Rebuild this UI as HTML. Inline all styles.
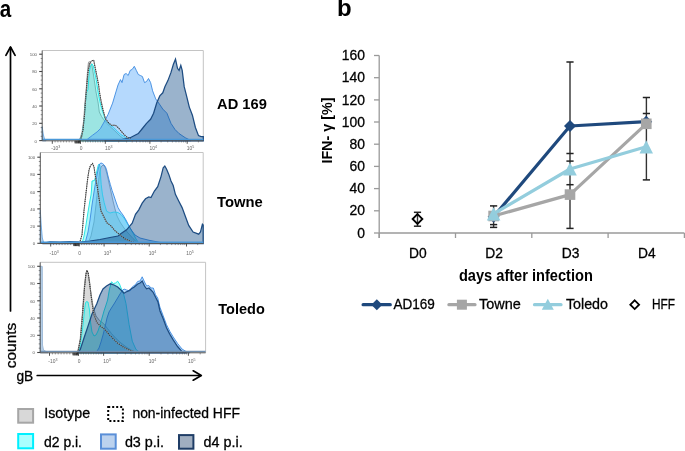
<!DOCTYPE html>
<html><head><meta charset="utf-8"><title>Figure</title>
<style>
html,body{margin:0;padding:0;background:#fff;}
body{width:685px;height:451px;overflow:hidden;}
svg{display:block;}
text{font-family:"Liberation Sans",Arial,sans-serif;}
.r{stroke:#000;stroke-width:0.28px;}
</style></head><body>
<svg width="685" height="451" viewBox="0 0 685 451">

<text transform="translate(-0.2,16.6) scale(0.86,0.97)" font-size="24" font-weight="bold" fill="#000">a</text>
<text x="337" y="16.2" font-size="24" font-weight="bold" fill="#000">b</text>
<g stroke="#000" stroke-width="1.7" fill="none" stroke-linecap="round" stroke-linejoin="round">
<path d="M10.5,311 L10.5,47.5"/>
<path d="M5.9,55.3 L10.5,47 L15.1,55.3"/>
<path d="M37.2,375.5 L200.5,375.5"/>
<path d="M193.2,370.8 L201.3,375.5 L193.2,380.2"/>
</g>
<text transform="translate(16.0,368.2) rotate(-90)" class="r" font-size="14.5" fill="#000" textLength="45.5" lengthAdjust="spacingAndGlyphs">counts</text>
<text x="16.4" y="380.5" class="r" font-size="14.2" fill="#000" textLength="16.8" lengthAdjust="spacingAndGlyphs">gB</text>
<path d="M42.2,50.5 L203.3,50.5 L203.3,140.8" stroke="#c4c4c4" stroke-width="1" fill="none"/>
<path d="M78.8,140.8 L78.8,140.6 L80.4,137.5 L82.1,131.9 L83.8,119.7 L84.9,103.1 L86.0,92.0 L86.6,84.0 L87.5,71.7 L88.4,62.9 L89.3,61.5 L90.6,62.9 L92.0,66.0 L93.5,75.0 L95.0,85.0 L96.0,92.0 L98.2,103.1 L99.3,112.0 L101.5,116.4 L103.7,119.7 L107.0,123.5 L110.0,126.5 L114.8,130.8 L120.3,136.3 L124.0,139.0 L127.0,140.6 L127.0,140.8 Z" fill="rgba(120,120,120,0.27)" stroke="#8a8a8a" stroke-width="0.9"/>
<path d="M79.5,140.8 L79.5,140.6 L81.0,137.5 L82.5,131.9 L84.2,119.7 L85.4,103.1 L86.6,92.0 L88.0,89.5 L89.3,71.7 L90.5,66.0 L92.0,63.8 L93.3,66.0 L94.6,71.7 L96.4,80.6 L97.7,89.5 L99.0,97.0 L100.5,104.0 L102.5,111.0 L105.4,119.7 L109.3,124.2 L113.7,127.5 L117.0,130.8 L120.3,134.1 L123.7,136.3 L127.0,138.8 L131.0,140.6 L131.0,140.8 Z" fill="rgba(62,245,237,0.40)" stroke="#19e3e3" stroke-width="0.9"/>
<path d="M86.0,140.8 L86.0,140.6 L88.2,138.6 L92.6,135.2 L97.1,131.9 L100.4,128.6 L104.8,120.8 L108.2,114.2 L112.6,103.1 L115.9,92.0 L118.0,85.0 L120.5,79.6 L122.0,82.6 L124.1,74.5 L126.1,73.5 L128.2,75.5 L130.2,70.4 L132.2,69.4 L134.3,66.3 L136.3,70.4 L138.3,74.5 L140.4,75.5 L142.4,76.5 L144.5,82.6 L146.5,81.6 L148.5,78.5 L150.6,82.6 L152.6,90.8 L155.7,98.9 L158.7,103.0 L162.8,109.1 L166.9,113.2 L171.0,123.4 L175.0,129.5 L179.1,133.6 L185.2,137.7 L191.0,140.6 L191.0,140.8 Z" fill="rgba(70,160,250,0.40)" stroke="#3d8ae0" stroke-width="0.9"/>
<path d="M105.0,140.8 L105.0,140.6 L120.0,140.0 L130.2,137.7 L138.3,133.6 L142.4,128.5 L146.5,123.4 L150.6,119.3 L153.6,113.2 L156.7,103.0 L159.8,95.9 L162.8,92.8 L164.9,86.7 L167.9,80.6 L171.0,72.4 L173.4,64.3 L175.5,59.2 L177.5,68.3 L179.1,70.4 L180.8,65.3 L182.2,70.4 L184.2,86.7 L186.3,94.9 L189.3,107.1 L192.4,115.2 L195.4,127.5 L198.5,135.6 L201.0,136.6 L203.3,136.6 L203.3,140.8 Z" fill="rgba(2,65,128,0.40)" stroke="#1d4c82" stroke-width="1.25"/>
<path d="M80.0,140.6 L81.5,137.0 L83.0,130.0 L84.5,115.0 L85.6,100.0 L86.8,85.0 L88.0,72.0 L89.5,64.0 L91.0,61.5 L92.5,60.5 L93.7,60.2 L95.1,67.3 L96.9,76.2 L98.6,85.0 L99.5,92.2 L101.0,100.9 L103.2,110.8 L105.4,118.6 L108.2,122.5 L111.5,125.3 L115.4,125.3 L118.1,127.5 L120.9,130.8 L123.7,134.1 L125.9,136.3 L129.0,138.5 L133.0,140.2" fill="none" stroke="#9a9a9a" stroke-width="1"/>
<path d="M80.0,140.6 L81.5,137.0 L83.0,130.0 L84.5,115.0 L85.6,100.0 L86.8,85.0 L88.0,72.0 L89.5,64.0 L91.0,61.5 L92.5,60.5 L93.7,60.2 L95.1,67.3 L96.9,76.2 L98.6,85.0 L99.5,92.2 L101.0,100.9 L103.2,110.8 L105.4,118.6 L108.2,122.5 L111.5,125.3 L115.4,125.3 L118.1,127.5 L120.9,130.8 L123.7,134.1 L125.9,136.3 L129.0,138.5 L133.0,140.2" fill="none" stroke="#333" stroke-width="1.1" stroke-dasharray="1.1,1.1"/>
<path d="M42.2,140.8 L42.2,126.6 L43.2,134.0 L44.5,139.0 L46.0,140.6 L46.0,140.8 Z" fill="rgba(110,160,210,0.5)" stroke="#5a9ee0" stroke-width="0.8"/>
<path d="M42.2,139.5 L203.3,139.5" stroke="#4a98d8" stroke-width="1.4" fill="none"/>
<path d="M42.2,50.5 L42.2,140.8 L203.3,140.8" stroke="#555" stroke-width="1" fill="none"/>
<path d="M80.2,140.8 L80.2,143.4" stroke="#111" stroke-width="0.8"/>
<path d="M79.4,140.8 L79.4,143.4" stroke="#111" stroke-width="0.8"/>
<path d="M78.5,140.8 L78.5,143.4" stroke="#111" stroke-width="0.8"/>
<path d="M77.7,140.8 L77.7,143.4" stroke="#111" stroke-width="0.8"/>
<path d="M76.8,140.8 L76.8,143.4" stroke="#111" stroke-width="0.8"/>
<path d="M76.0,140.8 L76.0,143.4" stroke="#111" stroke-width="0.8"/>
<path d="M75.1,140.8 L75.1,143.4" stroke="#111" stroke-width="0.8"/>
<path d="M55.1,140.8 L55.1,142.4" stroke="#555" stroke-width="0.6"/>
<path d="M57.9,140.8 L57.9,142.4" stroke="#555" stroke-width="0.6"/>
<path d="M60.8,140.8 L60.8,142.4" stroke="#555" stroke-width="0.6"/>
<path d="M63.6,140.8 L63.6,142.4" stroke="#555" stroke-width="0.6"/>
<path d="M66.4,140.8 L66.4,142.4" stroke="#555" stroke-width="0.6"/>
<path d="M69.2,140.8 L69.2,142.4" stroke="#555" stroke-width="0.6"/>
<path d="M72.0,140.8 L72.0,142.4" stroke="#555" stroke-width="0.6"/>
<path d="M74.9,140.8 L74.9,142.4" stroke="#555" stroke-width="0.6"/>
<path d="M77.7,140.8 L77.7,142.4" stroke="#555" stroke-width="0.6"/>
<path d="M83.0,140.8 L83.0,142.4" stroke="#555" stroke-width="0.6"/>
<path d="M85.5,140.8 L85.5,142.4" stroke="#555" stroke-width="0.6"/>
<path d="M87.9,140.8 L87.9,142.4" stroke="#555" stroke-width="0.6"/>
<path d="M90.4,140.8 L90.4,142.4" stroke="#555" stroke-width="0.6"/>
<path d="M92.9,140.8 L92.9,142.4" stroke="#555" stroke-width="0.6"/>
<path d="M95.4,140.8 L95.4,142.4" stroke="#555" stroke-width="0.6"/>
<path d="M97.9,140.8 L97.9,142.4" stroke="#555" stroke-width="0.6"/>
<path d="M100.3,140.8 L100.3,142.4" stroke="#555" stroke-width="0.6"/>
<path d="M102.8,140.8 L102.8,142.4" stroke="#555" stroke-width="0.6"/>
<path d="M118.7,140.8 L118.7,142.4" stroke="#555" stroke-width="0.6"/>
<path d="M126.6,140.8 L126.6,142.4" stroke="#555" stroke-width="0.6"/>
<path d="M132.2,140.8 L132.2,142.4" stroke="#555" stroke-width="0.6"/>
<path d="M136.5,140.8 L136.5,142.4" stroke="#555" stroke-width="0.6"/>
<path d="M140.0,140.8 L140.0,142.4" stroke="#555" stroke-width="0.6"/>
<path d="M143.0,140.8 L143.0,142.4" stroke="#555" stroke-width="0.6"/>
<path d="M145.6,140.8 L145.6,142.4" stroke="#555" stroke-width="0.6"/>
<path d="M147.9,140.8 L147.9,142.4" stroke="#555" stroke-width="0.6"/>
<path d="M161.1,140.8 L161.1,142.4" stroke="#555" stroke-width="0.6"/>
<path d="M167.7,140.8 L167.7,142.4" stroke="#555" stroke-width="0.6"/>
<path d="M172.4,140.8 L172.4,142.4" stroke="#555" stroke-width="0.6"/>
<path d="M176.0,140.8 L176.0,142.4" stroke="#555" stroke-width="0.6"/>
<path d="M178.9,140.8 L178.9,142.4" stroke="#555" stroke-width="0.6"/>
<path d="M181.4,140.8 L181.4,142.4" stroke="#555" stroke-width="0.6"/>
<path d="M183.6,140.8 L183.6,142.4" stroke="#555" stroke-width="0.6"/>
<path d="M185.5,140.8 L185.5,142.4" stroke="#555" stroke-width="0.6"/>
<path d="M198.4,140.8 L198.4,142.4" stroke="#555" stroke-width="0.6"/>
<path d="M39.2,140.6 L42.2,140.6" stroke="#444" stroke-width="1.1"/>
<path d="M40.7,136.3 L42.2,136.3" stroke="#444" stroke-width="0.6"/>
<path d="M40.7,132.0 L42.2,132.0" stroke="#444" stroke-width="0.6"/>
<path d="M40.7,127.6 L42.2,127.6" stroke="#444" stroke-width="0.6"/>
<path d="M39.2,123.3 L42.2,123.3" stroke="#444" stroke-width="1.1"/>
<path d="M40.7,119.0 L42.2,119.0" stroke="#444" stroke-width="0.6"/>
<path d="M40.7,114.7 L42.2,114.7" stroke="#444" stroke-width="0.6"/>
<path d="M40.7,110.4 L42.2,110.4" stroke="#444" stroke-width="0.6"/>
<path d="M39.2,106.0 L42.2,106.0" stroke="#444" stroke-width="1.1"/>
<path d="M40.7,101.7 L42.2,101.7" stroke="#444" stroke-width="0.6"/>
<path d="M40.7,97.4 L42.2,97.4" stroke="#444" stroke-width="0.6"/>
<path d="M40.7,93.1 L42.2,93.1" stroke="#444" stroke-width="0.6"/>
<path d="M39.2,88.8 L42.2,88.8" stroke="#444" stroke-width="1.1"/>
<path d="M40.7,84.4 L42.2,84.4" stroke="#444" stroke-width="0.6"/>
<path d="M40.7,80.1 L42.2,80.1" stroke="#444" stroke-width="0.6"/>
<path d="M40.7,75.8 L42.2,75.8" stroke="#444" stroke-width="0.6"/>
<path d="M39.2,71.5 L42.2,71.5" stroke="#444" stroke-width="1.1"/>
<path d="M40.7,67.2 L42.2,67.2" stroke="#444" stroke-width="0.6"/>
<path d="M40.7,62.8 L42.2,62.8" stroke="#444" stroke-width="0.6"/>
<path d="M40.7,58.5 L42.2,58.5" stroke="#444" stroke-width="0.6"/>
<path d="M39.2,54.2 L42.2,54.2" stroke="#444" stroke-width="1.1"/>
<text x="37.0" y="142.5" font-size="4.3" fill="#555" text-anchor="end">0</text>
<text x="37.0" y="125.2" font-size="4.3" fill="#555" text-anchor="end">20</text>
<text x="37.0" y="107.9" font-size="4.3" fill="#555" text-anchor="end">40</text>
<text x="37.0" y="90.7" font-size="4.3" fill="#555" text-anchor="end">60</text>
<text x="37.0" y="73.4" font-size="4.3" fill="#555" text-anchor="end">80</text>
<text x="37.0" y="56.1" font-size="4.3" fill="#555" text-anchor="end">100</text>
<path d="M52.3,140.8 L52.3,143.8" stroke="#444" stroke-width="0.9"/>
<path d="M80.5,140.8 L80.5,143.8" stroke="#444" stroke-width="0.9"/>
<path d="M105.3,140.8 L105.3,143.8" stroke="#444" stroke-width="0.9"/>
<path d="M149.9,140.8 L149.9,143.8" stroke="#444" stroke-width="0.9"/>
<path d="M187.2,140.8 L187.2,143.8" stroke="#444" stroke-width="0.9"/>
<text x="55.7" y="150.0" font-size="4.9" fill="#666" text-anchor="middle">-10<tspan font-size="3.6" dy="-2.2">3</tspan></text>
<text x="81.0" y="150.0" font-size="4.9" fill="#666" text-anchor="middle">0</text>
<text x="108.7" y="150.0" font-size="4.9" fill="#666" text-anchor="middle">10<tspan font-size="3.6" dy="-2.2">3</tspan></text>
<text x="153.3" y="150.0" font-size="4.9" fill="#666" text-anchor="middle">10<tspan font-size="3.6" dy="-2.2">4</tspan></text>
<text x="190.6" y="150.0" font-size="4.9" fill="#666" text-anchor="middle">10<tspan font-size="3.6" dy="-2.2">5</tspan></text>
<path d="M40.3,152.5 L203.2,152.5 L203.2,243.5" stroke="#c4c4c4" stroke-width="1" fill="none"/>
<path d="M88.0,243.5 L88.0,243.3 L91.0,236.0 L94.0,222.0 L96.0,205.0 L98.0,186.0 L99.5,173.0 L101.0,167.0 L103.0,165.0 L105.0,167.0 L107.0,174.0 L109.0,183.0 L111.0,192.0 L113.0,201.0 L115.0,209.0 L117.0,216.0 L120.0,222.0 L124.0,228.0 L128.0,233.0 L133.0,238.5 L138.0,243.3 L138.0,243.5 Z" fill="rgba(120,120,120,0.27)" stroke="#8a8a8a" stroke-width="0.9"/>
<path d="M82.0,243.5 L82.0,243.3 L84.0,236.0 L86.0,224.8 L88.0,212.0 L89.5,203.0 L91.0,195.0 L91.5,190.0 L92.0,181.0 L94.5,180.5 L96.0,175.0 L97.3,169.0 L98.3,165.0 L99.2,164.0 L100.0,166.0 L100.5,175.0 L101.2,184.4 L102.4,194.1 L104.2,202.7 L106.6,211.2 L110.0,213.0 L114.0,212.0 L118.0,212.5 L121.0,214.5 L124.0,218.0 L127.0,223.0 L130.0,228.0 L133.0,233.0 L136.0,239.0 L139.0,243.3 L139.0,243.5 Z" fill="rgba(62,245,237,0.40)" stroke="#19e3e3" stroke-width="0.9"/>
<path d="M85.0,243.5 L85.0,243.3 L88.0,232.0 L90.0,220.0 L92.0,205.0 L94.0,192.0 L96.0,180.0 L98.0,170.0 L99.5,164.0 L101.0,163.0 L102.5,163.5 L104.2,165.0 L105.5,167.0 L106.6,169.8 L107.5,174.0 L108.5,178.0 L110.3,184.4 L112.1,190.5 L114.0,196.0 L116.0,202.0 L118.0,207.5 L120.0,211.0 L123.0,215.0 L126.0,220.0 L129.0,226.0 L132.0,231.0 L135.0,235.0 L140.0,238.0 L150.0,240.5 L165.0,243.3 L165.0,243.5 Z" fill="rgba(70,160,250,0.40)" stroke="#3d8ae0" stroke-width="0.9"/>
<path d="M43.0,243.5 L43.0,243.3 L50.0,241.8 L60.0,242.0 L70.0,241.6 L80.0,242.0 L90.0,241.0 L100.0,239.5 L110.0,237.5 L118.0,236.0 L120.0,234.2 L126.6,229.8 L132.2,223.1 L135.5,214.3 L138.8,209.8 L142.2,203.2 L145.5,198.8 L148.8,197.0 L151.0,197.6 L154.4,191.0 L157.7,186.6 L161.0,176.6 L163.2,167.7 L164.8,166.0 L166.5,169.0 L168.8,174.4 L171.0,181.0 L173.2,185.5 L175.4,194.3 L178.7,201.0 L182.1,207.6 L185.4,216.5 L188.7,225.4 L193.1,232.0 L198.7,234.2 L200.5,232.0 L202.4,224.2 L203.2,225.0 L203.2,243.5 Z" fill="rgba(2,65,128,0.40)" stroke="#1d4c82" stroke-width="1.25"/>
<path d="M79.5,243.3 L80.5,240.0 L82.0,234.7 L84.0,210.8 L85.2,200.0 L86.0,193.0 L87.5,180.0 L89.0,170.0 L90.5,165.5 L92.5,163.5 L94.0,167.0 L95.5,177.0 L97.5,188.0 L99.0,198.0 L100.9,210.8 L103.9,216.8 L106.9,222.8 L110.9,225.8 L114.9,230.7 L119.0,234.0 L124.8,238.7 L131.0,241.5 L137.0,243.3" fill="none" stroke="#9a9a9a" stroke-width="1"/>
<path d="M79.5,243.3 L80.5,240.0 L82.0,234.7 L84.0,210.8 L85.2,200.0 L86.0,193.0 L87.5,180.0 L89.0,170.0 L90.5,165.5 L92.5,163.5 L94.0,167.0 L95.5,177.0 L97.5,188.0 L99.0,198.0 L100.9,210.8 L103.9,216.8 L106.9,222.8 L110.9,225.8 L114.9,230.7 L119.0,234.0 L124.8,238.7 L131.0,241.5 L137.0,243.3" fill="none" stroke="#333" stroke-width="1.1" stroke-dasharray="1.1,1.1"/>
<path d="M40.3,243.5 L40.3,210.0 L41.2,225.0 L42.3,238.0 L43.5,242.0 L45.0,243.3 L45.0,243.5 Z" fill="rgba(110,160,210,0.5)" stroke="#5a9ee0" stroke-width="0.8"/>
<path d="M40.3,242.2 L203.2,242.2" stroke="#4a98d8" stroke-width="1.4" fill="none"/>
<path d="M40.3,152.5 L40.3,243.5 L203.2,243.5" stroke="#555" stroke-width="1" fill="none"/>
<path d="M78.9,243.5 L78.9,246.1" stroke="#111" stroke-width="0.8"/>
<path d="M78.1,243.5 L78.1,246.1" stroke="#111" stroke-width="0.8"/>
<path d="M77.2,243.5 L77.2,246.1" stroke="#111" stroke-width="0.8"/>
<path d="M76.4,243.5 L76.4,246.1" stroke="#111" stroke-width="0.8"/>
<path d="M75.5,243.5 L75.5,246.1" stroke="#111" stroke-width="0.8"/>
<path d="M74.7,243.5 L74.7,246.1" stroke="#111" stroke-width="0.8"/>
<path d="M73.8,243.5 L73.8,246.1" stroke="#111" stroke-width="0.8"/>
<path d="M53.6,243.5 L53.6,245.1" stroke="#555" stroke-width="0.6"/>
<path d="M56.4,243.5 L56.4,245.1" stroke="#555" stroke-width="0.6"/>
<path d="M59.2,243.5 L59.2,245.1" stroke="#555" stroke-width="0.6"/>
<path d="M62.1,243.5 L62.1,245.1" stroke="#555" stroke-width="0.6"/>
<path d="M65.0,243.5 L65.0,245.1" stroke="#555" stroke-width="0.6"/>
<path d="M67.8,243.5 L67.8,245.1" stroke="#555" stroke-width="0.6"/>
<path d="M70.7,243.5 L70.7,245.1" stroke="#555" stroke-width="0.6"/>
<path d="M73.5,243.5 L73.5,245.1" stroke="#555" stroke-width="0.6"/>
<path d="M76.3,243.5 L76.3,245.1" stroke="#555" stroke-width="0.6"/>
<path d="M81.7,243.5 L81.7,245.1" stroke="#555" stroke-width="0.6"/>
<path d="M84.2,243.5 L84.2,245.1" stroke="#555" stroke-width="0.6"/>
<path d="M86.7,243.5 L86.7,245.1" stroke="#555" stroke-width="0.6"/>
<path d="M89.2,243.5 L89.2,245.1" stroke="#555" stroke-width="0.6"/>
<path d="M91.7,243.5 L91.7,245.1" stroke="#555" stroke-width="0.6"/>
<path d="M94.1,243.5 L94.1,245.1" stroke="#555" stroke-width="0.6"/>
<path d="M96.6,243.5 L96.6,245.1" stroke="#555" stroke-width="0.6"/>
<path d="M99.1,243.5 L99.1,245.1" stroke="#555" stroke-width="0.6"/>
<path d="M101.6,243.5 L101.6,245.1" stroke="#555" stroke-width="0.6"/>
<path d="M117.7,243.5 L117.7,245.1" stroke="#555" stroke-width="0.6"/>
<path d="M125.6,243.5 L125.6,245.1" stroke="#555" stroke-width="0.6"/>
<path d="M131.3,243.5 L131.3,245.1" stroke="#555" stroke-width="0.6"/>
<path d="M135.6,243.5 L135.6,245.1" stroke="#555" stroke-width="0.6"/>
<path d="M139.2,243.5 L139.2,245.1" stroke="#555" stroke-width="0.6"/>
<path d="M142.2,243.5 L142.2,245.1" stroke="#555" stroke-width="0.6"/>
<path d="M144.8,243.5 L144.8,245.1" stroke="#555" stroke-width="0.6"/>
<path d="M147.1,243.5 L147.1,245.1" stroke="#555" stroke-width="0.6"/>
<path d="M160.4,243.5 L160.4,245.1" stroke="#555" stroke-width="0.6"/>
<path d="M167.0,243.5 L167.0,245.1" stroke="#555" stroke-width="0.6"/>
<path d="M171.7,243.5 L171.7,245.1" stroke="#555" stroke-width="0.6"/>
<path d="M175.3,243.5 L175.3,245.1" stroke="#555" stroke-width="0.6"/>
<path d="M178.2,243.5 L178.2,245.1" stroke="#555" stroke-width="0.6"/>
<path d="M180.7,243.5 L180.7,245.1" stroke="#555" stroke-width="0.6"/>
<path d="M182.9,243.5 L182.9,245.1" stroke="#555" stroke-width="0.6"/>
<path d="M184.8,243.5 L184.8,245.1" stroke="#555" stroke-width="0.6"/>
<path d="M197.7,243.5 L197.7,245.1" stroke="#555" stroke-width="0.6"/>
<path d="M37.3,243.3 L40.3,243.3" stroke="#444" stroke-width="1.1"/>
<path d="M38.8,239.0 L40.3,239.0" stroke="#444" stroke-width="0.6"/>
<path d="M38.8,234.7 L40.3,234.7" stroke="#444" stroke-width="0.6"/>
<path d="M38.8,230.4 L40.3,230.4" stroke="#444" stroke-width="0.6"/>
<path d="M37.3,226.1 L40.3,226.1" stroke="#444" stroke-width="1.1"/>
<path d="M38.8,221.8 L40.3,221.8" stroke="#444" stroke-width="0.6"/>
<path d="M38.8,217.5 L40.3,217.5" stroke="#444" stroke-width="0.6"/>
<path d="M38.8,213.2 L40.3,213.2" stroke="#444" stroke-width="0.6"/>
<path d="M37.3,208.9 L40.3,208.9" stroke="#444" stroke-width="1.1"/>
<path d="M38.8,204.6 L40.3,204.6" stroke="#444" stroke-width="0.6"/>
<path d="M38.8,200.2 L40.3,200.2" stroke="#444" stroke-width="0.6"/>
<path d="M38.8,195.9 L40.3,195.9" stroke="#444" stroke-width="0.6"/>
<path d="M37.3,191.6 L40.3,191.6" stroke="#444" stroke-width="1.1"/>
<path d="M38.8,187.3 L40.3,187.3" stroke="#444" stroke-width="0.6"/>
<path d="M38.8,183.0 L40.3,183.0" stroke="#444" stroke-width="0.6"/>
<path d="M38.8,178.7 L40.3,178.7" stroke="#444" stroke-width="0.6"/>
<path d="M37.3,174.4 L40.3,174.4" stroke="#444" stroke-width="1.1"/>
<path d="M38.8,170.1 L40.3,170.1" stroke="#444" stroke-width="0.6"/>
<path d="M38.8,165.8 L40.3,165.8" stroke="#444" stroke-width="0.6"/>
<path d="M38.8,161.5 L40.3,161.5" stroke="#444" stroke-width="0.6"/>
<path d="M37.3,157.2 L40.3,157.2" stroke="#444" stroke-width="1.1"/>
<text x="35.1" y="245.2" font-size="4.3" fill="#555" text-anchor="end">0</text>
<text x="35.1" y="228.0" font-size="4.3" fill="#555" text-anchor="end">20</text>
<text x="35.1" y="210.8" font-size="4.3" fill="#555" text-anchor="end">40</text>
<text x="35.1" y="193.5" font-size="4.3" fill="#555" text-anchor="end">60</text>
<text x="35.1" y="176.3" font-size="4.3" fill="#555" text-anchor="end">80</text>
<text x="35.1" y="159.1" font-size="4.3" fill="#555" text-anchor="end">100</text>
<path d="M50.7,243.5 L50.7,246.5" stroke="#444" stroke-width="0.9"/>
<path d="M79.2,243.5 L79.2,246.5" stroke="#444" stroke-width="0.9"/>
<path d="M104.1,243.5 L104.1,246.5" stroke="#444" stroke-width="0.9"/>
<path d="M149.2,243.5 L149.2,246.5" stroke="#444" stroke-width="0.9"/>
<path d="M186.5,243.5 L186.5,246.5" stroke="#444" stroke-width="0.9"/>
<text x="54.1" y="255.4" font-size="4.9" fill="#666" text-anchor="middle">-10<tspan font-size="3.6" dy="-2.2">3</tspan></text>
<text x="79.7" y="255.4" font-size="4.9" fill="#666" text-anchor="middle">0</text>
<text x="107.5" y="255.4" font-size="4.9" fill="#666" text-anchor="middle">10<tspan font-size="3.6" dy="-2.2">3</tspan></text>
<text x="152.6" y="255.4" font-size="4.9" fill="#666" text-anchor="middle">10<tspan font-size="3.6" dy="-2.2">4</tspan></text>
<text x="189.9" y="255.4" font-size="4.9" fill="#666" text-anchor="middle">10<tspan font-size="3.6" dy="-2.2">5</tspan></text>
<path d="M40.2,262.3 L205.6,262.3 L205.6,352.8" stroke="#c4c4c4" stroke-width="1" fill="none"/>
<path d="M77.0,352.8 L77.0,352.5 L78.1,349.5 L80.2,339.0 L82.3,314.0 L84.3,287.0 L85.8,274.0 L86.8,270.3 L88.0,273.0 L89.5,281.0 L91.2,295.0 L93.2,307.0 L96.0,316.0 L99.5,320.5 L103.5,323.5 L107.5,328.5 L111.5,333.5 L116.0,338.5 L121.0,343.0 L127.0,347.5 L132.0,350.5 L137.0,352.5 L137.0,352.8 Z" fill="rgba(120,120,120,0.27)" stroke="#8a8a8a" stroke-width="0.9"/>
<path d="M79.0,352.8 L79.0,352.5 L81.0,340.0 L83.0,325.0 L84.5,310.0 L85.5,303.0 L86.4,301.6 L88.0,302.0 L89.5,310.0 L90.5,322.0 L92.0,332.0 L94.0,336.0 L96.0,335.0 L98.0,331.0 L100.0,325.0 L102.0,318.0 L104.0,311.0 L106.0,305.0 L107.6,300.0 L109.3,290.0 L111.4,281.8 L113.5,283.5 L115.5,283.0 L117.7,281.2 L119.5,284.0 L121.0,288.0 L122.9,291.2 L126.0,303.7 L129.1,324.5 L132.3,341.2 L136.0,349.5 L140.0,352.5 L140.0,352.8 Z" fill="rgba(62,245,237,0.40)" stroke="#19e3e3" stroke-width="0.9"/>
<path d="M96.0,352.8 L96.0,352.5 L99.0,348.0 L101.0,342.0 L103.0,335.0 L105.0,327.0 L107.0,318.0 L109.0,312.0 L111.4,308.0 L114.0,304.0 L117.0,299.0 L120.0,294.0 L122.0,291.0 L124.0,289.0 L126.6,290.0 L130.0,291.0 L132.2,287.0 L135.5,284.5 L137.7,281.4 L140.0,281.0 L142.2,276.8 L144.5,282.0 L146.6,286.0 L148.8,285.5 L151.0,288.0 L153.3,288.0 L155.5,294.7 L157.7,298.0 L159.9,307.1 L163.2,315.8 L166.5,324.7 L169.9,331.4 L173.2,336.9 L177.6,343.5 L182.1,349.1 L186.0,351.5 L190.0,352.5 L190.0,352.8 Z" fill="rgba(70,160,250,0.40)" stroke="#3d8ae0" stroke-width="0.9"/>
<path d="M77.7,352.8 L77.7,352.5 L80.2,349.6 L84.0,338.0 L88.5,324.6 L92.0,314.0 L96.8,303.8 L100.0,295.0 L103.0,289.0 L106.5,286.0 L110.4,283.8 L114.0,285.0 L117.7,287.0 L121.0,290.0 L124.0,293.2 L126.0,292.0 L128.1,291.2 L131.0,289.0 L134.3,287.0 L137.7,284.0 L140.0,283.0 L142.2,281.0 L144.5,286.0 L146.6,288.8 L149.0,288.0 L151.0,290.0 L153.0,292.0 L155.5,297.0 L158.0,302.0 L160.0,311.0 L163.2,318.8 L166.5,327.7 L169.9,334.4 L173.2,339.9 L177.6,346.5 L182.1,351.6 L186.0,352.5 L186.0,352.8 Z" fill="rgba(2,65,128,0.40)" stroke="#1d4c82" stroke-width="1.25"/>
<path d="M77.5,352.5 L78.5,349.5 L80.5,339.0 L82.6,314.0 L84.6,287.0 L86.0,274.0 L87.0,270.3 L88.2,273.0 L89.5,282.8 L91.6,299.5 L93.7,314.0 L96.8,322.4 L101.0,326.6 L105.2,329.7 L109.3,334.9 L113.5,339.0 L117.7,343.2 L123.9,347.4 L130.2,350.5 L136.0,352.2" fill="none" stroke="#9a9a9a" stroke-width="1"/>
<path d="M77.5,352.5 L78.5,349.5 L80.5,339.0 L82.6,314.0 L84.6,287.0 L86.0,274.0 L87.0,270.3 L88.2,273.0 L89.5,282.8 L91.6,299.5 L93.7,314.0 L96.8,322.4 L101.0,326.6 L105.2,329.7 L109.3,334.9 L113.5,339.0 L117.7,343.2 L123.9,347.4 L130.2,350.5 L136.0,352.2" fill="none" stroke="#333" stroke-width="1.1" stroke-dasharray="1.1,1.1"/>
<path d="M40.2,352.8 L40.2,266.0 L42.3,266.5 L42.4,300.0 L42.5,345.0 L43.5,350.0 L46.0,351.5 L48.0,352.5 L48.0,352.8 Z" fill="rgba(110,160,210,0.5)" stroke="#90b0d0" stroke-width="0.8"/>
<path d="M40.2,351.5 L205.6,351.5" stroke="#6f8fb0" stroke-width="1.4" fill="none"/>
<path d="M40.2,262.3 L40.2,352.8 L205.6,352.8" stroke="#555" stroke-width="1" fill="none"/>
<path d="M78.2,352.8 L78.2,355.40000000000003" stroke="#111" stroke-width="0.8"/>
<path d="M77.4,352.8 L77.4,355.40000000000003" stroke="#111" stroke-width="0.8"/>
<path d="M76.5,352.8 L76.5,355.40000000000003" stroke="#111" stroke-width="0.8"/>
<path d="M75.7,352.8 L75.7,355.40000000000003" stroke="#111" stroke-width="0.8"/>
<path d="M74.8,352.8 L74.8,355.40000000000003" stroke="#111" stroke-width="0.8"/>
<path d="M74.0,352.8 L74.0,355.40000000000003" stroke="#111" stroke-width="0.8"/>
<path d="M73.1,352.8 L73.1,355.40000000000003" stroke="#111" stroke-width="0.8"/>
<path d="M52.4,352.8 L52.4,354.40000000000003" stroke="#555" stroke-width="0.6"/>
<path d="M55.3,352.8 L55.3,354.40000000000003" stroke="#555" stroke-width="0.6"/>
<path d="M58.2,352.8 L58.2,354.40000000000003" stroke="#555" stroke-width="0.6"/>
<path d="M61.1,352.8 L61.1,354.40000000000003" stroke="#555" stroke-width="0.6"/>
<path d="M64.0,352.8 L64.0,354.40000000000003" stroke="#555" stroke-width="0.6"/>
<path d="M66.9,352.8 L66.9,354.40000000000003" stroke="#555" stroke-width="0.6"/>
<path d="M69.8,352.8 L69.8,354.40000000000003" stroke="#555" stroke-width="0.6"/>
<path d="M72.7,352.8 L72.7,354.40000000000003" stroke="#555" stroke-width="0.6"/>
<path d="M75.6,352.8 L75.6,354.40000000000003" stroke="#555" stroke-width="0.6"/>
<path d="M81.0,352.8 L81.0,354.40000000000003" stroke="#555" stroke-width="0.6"/>
<path d="M83.5,352.8 L83.5,354.40000000000003" stroke="#555" stroke-width="0.6"/>
<path d="M86.0,352.8 L86.0,354.40000000000003" stroke="#555" stroke-width="0.6"/>
<path d="M88.5,352.8 L88.5,354.40000000000003" stroke="#555" stroke-width="0.6"/>
<path d="M91.0,352.8 L91.0,354.40000000000003" stroke="#555" stroke-width="0.6"/>
<path d="M93.6,352.8 L93.6,354.40000000000003" stroke="#555" stroke-width="0.6"/>
<path d="M96.1,352.8 L96.1,354.40000000000003" stroke="#555" stroke-width="0.6"/>
<path d="M98.6,352.8 L98.6,354.40000000000003" stroke="#555" stroke-width="0.6"/>
<path d="M101.1,352.8 L101.1,354.40000000000003" stroke="#555" stroke-width="0.6"/>
<path d="M117.3,352.8 L117.3,354.40000000000003" stroke="#555" stroke-width="0.6"/>
<path d="M125.4,352.8 L125.4,354.40000000000003" stroke="#555" stroke-width="0.6"/>
<path d="M131.1,352.8 L131.1,354.40000000000003" stroke="#555" stroke-width="0.6"/>
<path d="M135.5,352.8 L135.5,354.40000000000003" stroke="#555" stroke-width="0.6"/>
<path d="M139.1,352.8 L139.1,354.40000000000003" stroke="#555" stroke-width="0.6"/>
<path d="M142.1,352.8 L142.1,354.40000000000003" stroke="#555" stroke-width="0.6"/>
<path d="M144.8,352.8 L144.8,354.40000000000003" stroke="#555" stroke-width="0.6"/>
<path d="M147.1,352.8 L147.1,354.40000000000003" stroke="#555" stroke-width="0.6"/>
<path d="M161.0,352.8 L161.0,354.40000000000003" stroke="#555" stroke-width="0.6"/>
<path d="M167.9,352.8 L167.9,354.40000000000003" stroke="#555" stroke-width="0.6"/>
<path d="M172.8,352.8 L172.8,354.40000000000003" stroke="#555" stroke-width="0.6"/>
<path d="M176.6,352.8 L176.6,354.40000000000003" stroke="#555" stroke-width="0.6"/>
<path d="M179.7,352.8 L179.7,354.40000000000003" stroke="#555" stroke-width="0.6"/>
<path d="M182.3,352.8 L182.3,354.40000000000003" stroke="#555" stroke-width="0.6"/>
<path d="M184.6,352.8 L184.6,354.40000000000003" stroke="#555" stroke-width="0.6"/>
<path d="M186.6,352.8 L186.6,354.40000000000003" stroke="#555" stroke-width="0.6"/>
<path d="M200.2,352.8 L200.2,354.40000000000003" stroke="#555" stroke-width="0.6"/>
<path d="M37.2,352.5 L40.2,352.5" stroke="#444" stroke-width="1.1"/>
<path d="M38.7,348.2 L40.2,348.2" stroke="#444" stroke-width="0.6"/>
<path d="M38.7,343.9 L40.2,343.9" stroke="#444" stroke-width="0.6"/>
<path d="M38.7,339.6 L40.2,339.6" stroke="#444" stroke-width="0.6"/>
<path d="M37.2,335.3 L40.2,335.3" stroke="#444" stroke-width="1.1"/>
<path d="M38.7,330.9 L40.2,330.9" stroke="#444" stroke-width="0.6"/>
<path d="M38.7,326.6 L40.2,326.6" stroke="#444" stroke-width="0.6"/>
<path d="M38.7,322.3 L40.2,322.3" stroke="#444" stroke-width="0.6"/>
<path d="M37.2,318.0 L40.2,318.0" stroke="#444" stroke-width="1.1"/>
<path d="M38.7,313.7 L40.2,313.7" stroke="#444" stroke-width="0.6"/>
<path d="M38.7,309.4 L40.2,309.4" stroke="#444" stroke-width="0.6"/>
<path d="M38.7,305.1 L40.2,305.1" stroke="#444" stroke-width="0.6"/>
<path d="M37.2,300.8 L40.2,300.8" stroke="#444" stroke-width="1.1"/>
<path d="M38.7,296.5 L40.2,296.5" stroke="#444" stroke-width="0.6"/>
<path d="M38.7,292.2 L40.2,292.2" stroke="#444" stroke-width="0.6"/>
<path d="M38.7,287.9 L40.2,287.9" stroke="#444" stroke-width="0.6"/>
<path d="M37.2,283.5 L40.2,283.5" stroke="#444" stroke-width="1.1"/>
<path d="M38.7,279.2 L40.2,279.2" stroke="#444" stroke-width="0.6"/>
<path d="M38.7,274.9 L40.2,274.9" stroke="#444" stroke-width="0.6"/>
<path d="M38.7,270.6 L40.2,270.6" stroke="#444" stroke-width="0.6"/>
<path d="M37.2,266.3 L40.2,266.3" stroke="#444" stroke-width="1.1"/>
<text x="35.0" y="354.4" font-size="4.3" fill="#555" text-anchor="end">0</text>
<text x="35.0" y="337.2" font-size="4.3" fill="#555" text-anchor="end">20</text>
<text x="35.0" y="319.9" font-size="4.3" fill="#555" text-anchor="end">40</text>
<text x="35.0" y="302.7" font-size="4.3" fill="#555" text-anchor="end">60</text>
<text x="35.0" y="285.4" font-size="4.3" fill="#555" text-anchor="end">80</text>
<text x="35.0" y="268.2" font-size="4.3" fill="#555" text-anchor="end">100</text>
<path d="M49.5,352.8 L49.5,355.8" stroke="#444" stroke-width="0.9"/>
<path d="M78.5,352.8 L78.5,355.8" stroke="#444" stroke-width="0.9"/>
<path d="M103.6,352.8 L103.6,355.8" stroke="#444" stroke-width="0.9"/>
<path d="M149.2,352.8 L149.2,355.8" stroke="#444" stroke-width="0.9"/>
<path d="M188.4,352.8 L188.4,355.8" stroke="#444" stroke-width="0.9"/>
<text x="52.9" y="362.9" font-size="4.9" fill="#666" text-anchor="middle">-10<tspan font-size="3.6" dy="-2.2">3</tspan></text>
<text x="79.0" y="362.9" font-size="4.9" fill="#666" text-anchor="middle">0</text>
<text x="107.0" y="362.9" font-size="4.9" fill="#666" text-anchor="middle">10<tspan font-size="3.6" dy="-2.2">3</tspan></text>
<text x="152.6" y="362.9" font-size="4.9" fill="#666" text-anchor="middle">10<tspan font-size="3.6" dy="-2.2">4</tspan></text>
<text x="191.8" y="362.9" font-size="4.9" fill="#666" text-anchor="middle">10<tspan font-size="3.6" dy="-2.2">5</tspan></text>
<text x="217.1" y="109" font-size="14.7" font-weight="bold" fill="#000" textLength="49.7" lengthAdjust="spacingAndGlyphs">AD 169</text>
<text x="217" y="207" font-size="14.7" font-weight="bold" fill="#000" textLength="45.7" lengthAdjust="spacingAndGlyphs">Towne</text>
<text x="218.3" y="314" font-size="14.7" font-weight="bold" fill="#000" textLength="46.5" lengthAdjust="spacingAndGlyphs">Toledo</text>
<rect x="18.2" y="409" width="14.9" height="13.7" fill="#d8d8d8" stroke="#a6a6a6" stroke-width="2"/>
<text x="44.2" y="418.1" class="r" font-size="14.4" fill="#000" textLength="46" lengthAdjust="spacingAndGlyphs">Isotype</text>
<rect x="108.2" y="407.1" width="14.7" height="13.8" fill="none" stroke="#000" stroke-width="2" stroke-dasharray="2,2"/>
<text x="132.4" y="418.1" class="r" font-size="14.4" fill="#000" textLength="107.5" lengthAdjust="spacingAndGlyphs">non-infected HFF</text>
<rect x="18.2" y="434" width="14.9" height="14.3" fill="#aaffff" stroke="#00f0ff" stroke-width="2"/>
<text x="44" y="446.8" class="r" font-size="14.4" fill="#000" textLength="38" lengthAdjust="spacingAndGlyphs">d2 p.i.</text>
<rect x="101" y="434.4" width="14.7" height="14.3" fill="#bcd2ee" stroke="#5a8fd8" stroke-width="2"/>
<text x="124.9" y="446.8" class="r" font-size="14.4" fill="#000" textLength="39.1" lengthAdjust="spacingAndGlyphs">d3 p.i.</text>
<rect x="179" y="435.1" width="14.4" height="13.6" fill="#a0aec0" stroke="#1f3d66" stroke-width="2"/>
<text x="203.6" y="446.8" class="r" font-size="14.4" fill="#000" textLength="39.1" lengthAdjust="spacingAndGlyphs">d4 p.i.</text>
<g stroke="#9a9a9a" stroke-width="1.3" fill="none">
<path d="M379.2,55.5 L379.2,238"/>
<path d="M379.2,233 L684.4,233"/>
<path d="M374,233.0 L379.2,233.0"/>
<path d="M374,210.8 L379.2,210.8"/>
<path d="M374,188.6 L379.2,188.6"/>
<path d="M374,166.4 L379.2,166.4"/>
<path d="M374,144.2 L379.2,144.2"/>
<path d="M374,122.0 L379.2,122.0"/>
<path d="M374,99.9 L379.2,99.9"/>
<path d="M374,77.7 L379.2,77.7"/>
<path d="M374,55.5 L379.2,55.5"/>
<path d="M379.2,233 L379.2,238"/>
<path d="M455.5,233 L455.5,238"/>
<path d="M531.8,233 L531.8,238"/>
<path d="M608.1,233 L608.1,238"/>
<path d="M684.4,233 L684.4,238"/>
</g>
<text x="365" y="237.6" class="r" font-size="13.9" fill="#000" text-anchor="end">0</text>
<text x="365" y="215.4" class="r" font-size="13.9" fill="#000" text-anchor="end">20</text>
<text x="365" y="193.2" class="r" font-size="13.9" fill="#000" text-anchor="end">40</text>
<text x="365" y="171.0" class="r" font-size="13.9" fill="#000" text-anchor="end">60</text>
<text x="365" y="148.8" class="r" font-size="13.9" fill="#000" text-anchor="end">80</text>
<text x="365" y="126.6" class="r" font-size="13.9" fill="#000" text-anchor="end">100</text>
<text x="365" y="104.5" class="r" font-size="13.9" fill="#000" text-anchor="end">120</text>
<text x="365" y="82.3" class="r" font-size="13.9" fill="#000" text-anchor="end">140</text>
<text x="365" y="60.1" class="r" font-size="13.9" fill="#000" text-anchor="end">160</text>
<text x="417.9" y="257.8" class="r" font-size="13.8" fill="#000" text-anchor="middle">D0</text>
<text x="494.1" y="257.8" class="r" font-size="13.8" fill="#000" text-anchor="middle">D2</text>
<text x="570.5" y="257.8" class="r" font-size="13.8" fill="#000" text-anchor="middle">D3</text>
<text x="646.8" y="257.8" class="r" font-size="13.8" fill="#000" text-anchor="middle">D4</text>
<text x="458.9" y="281.2" font-size="16" font-weight="bold" fill="#000" textLength="134" lengthAdjust="spacingAndGlyphs">days after infection</text>
<text transform="translate(332.4,163.6) rotate(-90)" font-size="15" font-weight="bold" fill="#000" textLength="66" lengthAdjust="spacingAndGlyphs">IFN- γ [%]</text>
<path d="M417.5,212.3 L417.5,226.2" stroke="#333" stroke-width="1.4"/>
<path d="M413.9,212.3 L421.1,212.3" stroke="#222" stroke-width="1.5"/>
<path d="M413.9,226.2 L421.1,226.2" stroke="#222" stroke-width="1.5"/>
<path d="M493.6,205.9 L493.6,227.4" stroke="#333" stroke-width="1.4"/>
<path d="M490.0,205.9 L497.2,205.9" stroke="#222" stroke-width="1.5"/>
<path d="M490.0,224.6 L497.2,224.6" stroke="#222" stroke-width="1.5"/>
<path d="M490.0,227.4 L497.2,227.4" stroke="#222" stroke-width="1.5"/>
<path d="M570,62.0 L570,228.4" stroke="#333" stroke-width="1.4"/>
<path d="M566.4,62.0 L573.6,62.0" stroke="#222" stroke-width="1.5"/>
<path d="M566.4,153.5 L573.6,153.5" stroke="#222" stroke-width="1.5"/>
<path d="M566.4,161.1 L573.6,161.1" stroke="#222" stroke-width="1.5"/>
<path d="M566.4,184.7 L573.6,184.7" stroke="#222" stroke-width="1.5"/>
<path d="M566.4,228.4 L573.6,228.4" stroke="#222" stroke-width="1.5"/>
<path d="M646.4,97.5 L646.4,179.9" stroke="#333" stroke-width="1.4"/>
<path d="M642.8,97.5 L650.0,97.5" stroke="#222" stroke-width="1.5"/>
<path d="M642.8,113.5 L650.0,113.5" stroke="#222" stroke-width="1.5"/>
<path d="M642.8,179.9 L650.0,179.9" stroke="#222" stroke-width="1.5"/>
<path d="M493.6,216.8 L570.0,126.0 L646.2,121.7" stroke="#1f497d" stroke-width="3.2" fill="none" stroke-linejoin="round" stroke-linecap="round"/>
<path d="M493.6,210.8 L499.6,216.8 L493.6,222.8 L487.6,216.8 Z" fill="#1f497d"/>
<path d="M570.0,120.0 L576.0,126.0 L570.0,132.0 L564.0,126.0 Z" fill="#1f497d"/>
<path d="M646.2,115.7 L652.2,121.7 L646.2,127.7 L640.2,121.7 Z" fill="#1f497d"/>
<path d="M493.6,216.0 L570.0,194.6 L646.2,123.8" stroke="#a6a6a6" stroke-width="3.2" fill="none" stroke-linejoin="round" stroke-linecap="round"/>
<rect x="488.3" y="210.7" width="10.6" height="10.6" fill="#a6a6a6"/>
<rect x="564.7" y="189.3" width="10.6" height="10.6" fill="#a6a6a6"/>
<rect x="641.0" y="118.5" width="10.6" height="10.6" fill="#a6a6a6"/>
<path d="M493.6,213.8 L570.0,169.0 L646.2,146.8" stroke="#93cddd" stroke-width="3.2" fill="none" stroke-linejoin="round" stroke-linecap="round"/>
<path d="M493.6,207.2 L500.4,220.4 L486.8,220.4 Z" fill="#93cddd"/>
<path d="M570.0,162.4 L576.8,175.6 L563.2,175.6 Z" fill="#93cddd"/>
<path d="M646.2,140.2 L653.0,153.4 L639.5,153.4 Z" fill="#93cddd"/>
<path d="M417.5,214.1 L422.4,219.0 L417.5,223.9 L412.6,219.0 Z" fill="none" stroke="#000" stroke-width="1.8"/>
<path d="M363.1,304.7 L390.3,304.7" stroke="#1f497d" stroke-width="3.2" stroke-linecap="round"/>
<path d="M376.8,299.2 L382.3,304.7 L376.8,310.2 L371.3,304.7 Z" fill="#1f497d"/>
<text x="393.5" y="309" class="r" font-size="14.2" fill="#000" textLength="41.4" lengthAdjust="spacingAndGlyphs">AD169</text>
<path d="M448.9,304.7 L475,304.7" stroke="#a6a6a6" stroke-width="3.2" stroke-linecap="round"/>
<rect x="456.9" y="299.7" width="10" height="10" fill="#a6a6a6"/>
<text x="479" y="309" class="r" font-size="14.2" fill="#000" textLength="41.8" lengthAdjust="spacingAndGlyphs">Towne</text>
<path d="M534.5,304.7 L561,304.7" stroke="#93cddd" stroke-width="3.2" stroke-linecap="round"/>
<path d="M547.8,298.7 L553.8,309.7 L541.8,309.7 Z" fill="#93cddd"/>
<text x="565.9" y="309" class="r" font-size="14.2" fill="#000" textLength="42.1" lengthAdjust="spacingAndGlyphs">Toledo</text>
<path d="M634.7,300.3 L639.1,304.7 L634.7,309.1 L630.3,304.7 Z" fill="#fff" stroke="#000" stroke-width="1.8"/>
<text x="652" y="309" class="r" font-size="14.2" fill="#000" textLength="23" lengthAdjust="spacingAndGlyphs">HFF</text>
</svg>
</body></html>
